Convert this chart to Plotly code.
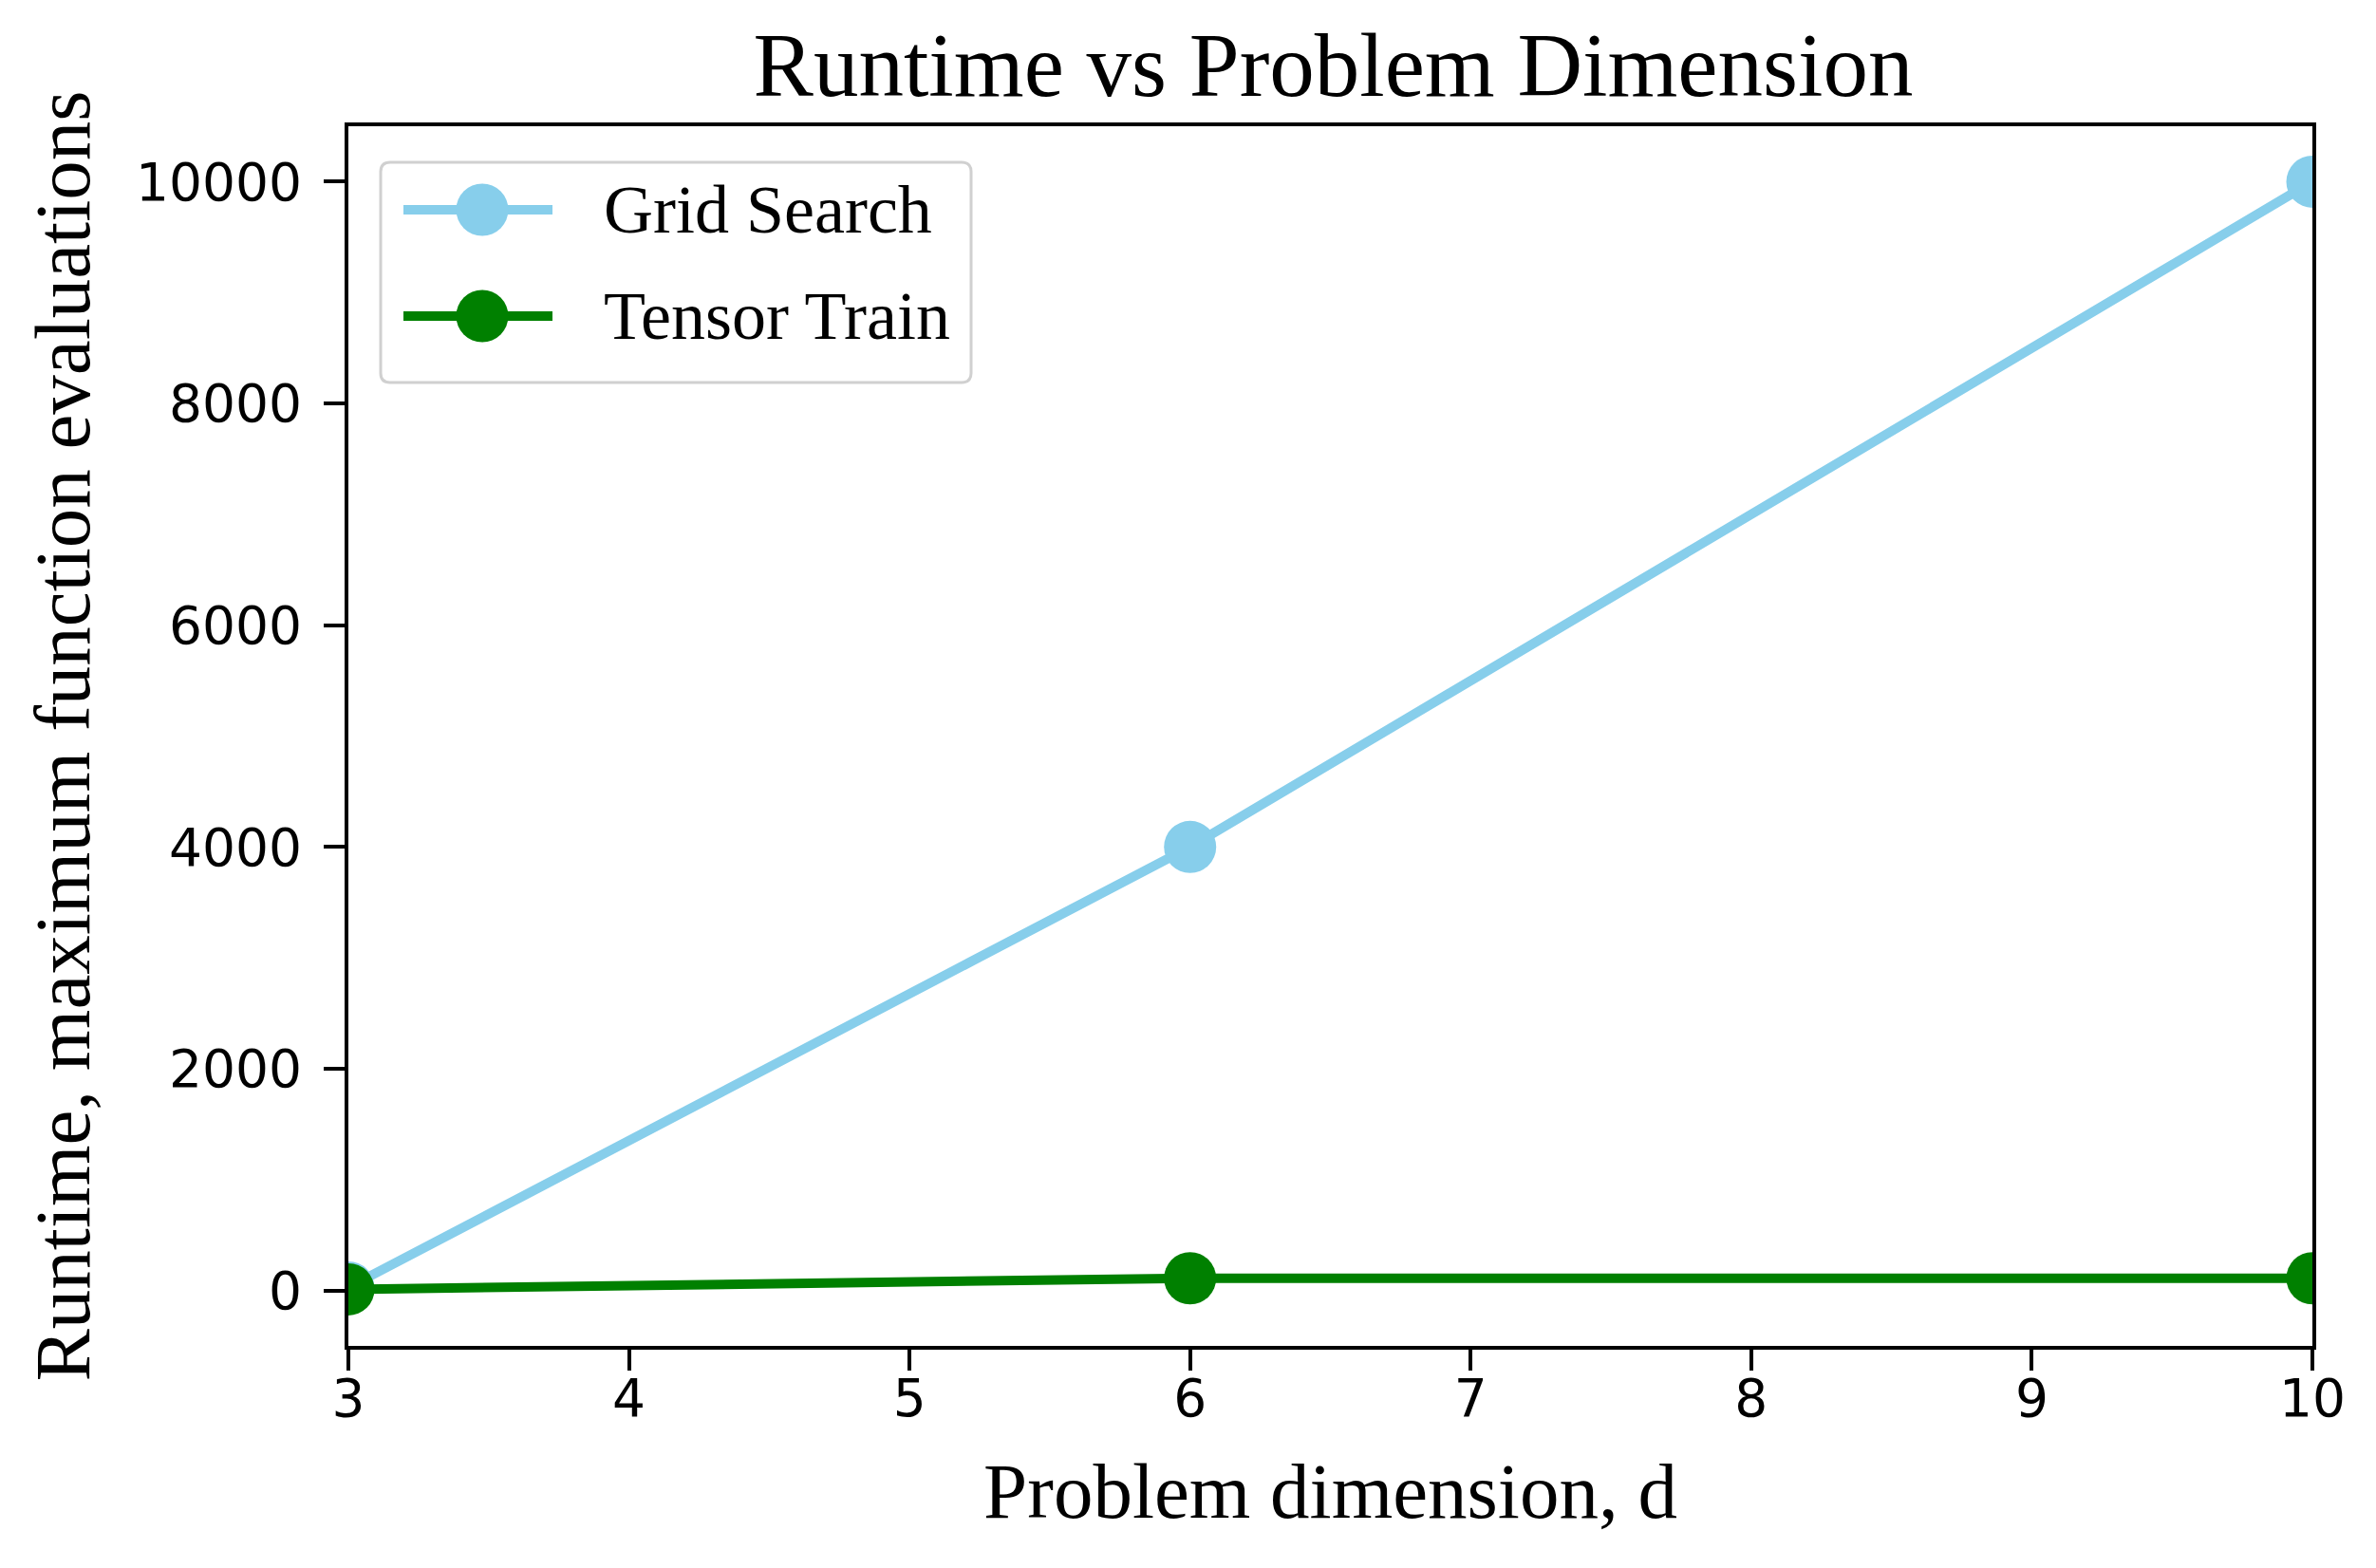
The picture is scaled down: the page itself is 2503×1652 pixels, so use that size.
import plotly.graph_objects as go

# problem dimension d
dims = [3, 6, 10]

# maximum function evaluations
grid_search = [27, 4000, 10000]
tensor_train = [10, 110, 110]

series_names = ["Grid Search", "Tensor Train"]
series_colors = ["#87CEEB", "#008000"]

x_ticks = [3, 4, 5, 6, 7, 8, 9, 10]
y_ticks = [0, 2000, 4000, 6000, 8000, 10000]

W, H = 2503, 1652
L, R, T, B = 367, 2436, 133, 1418  # plot area in page pixels

SERIF = "Liberation Serif"
SANS = "DejaVu Sans"


def px(x):
    return (x - L) / (R - L)


def py(y):
    return (B - y) / (B - T)


def rounded_box(x0, y0, x1, y1, r=10):
    # rounded rectangle path in paper coords from page pixels
    a, b, c, d = px(x0), px(x1), py(y1), py(y0)
    rx, ry = r / (R - L), r / (B - T)
    return (f"M{a + rx},{c} L{b - rx},{c} Q{b},{c} {b},{c + ry} "
            f"L{b},{d - ry} Q{b},{d} {b - rx},{d} L{a + rx},{d} "
            f"Q{a},{d} {a},{d - ry} L{a},{c + ry} Q{a},{c} {a + rx},{c} Z")


def plot_graph():
    fig = go.Figure()

    for name, ys, col in zip(series_names, [grid_search, tensor_train], series_colors):
        fig.add_trace(go.Scatter(
            x=dims, y=ys, name=name, mode="lines+markers",
            line=dict(color=col, width=10),
            marker=dict(color=col, size=55, line=dict(width=0)),
            showlegend=False,
        ))

    # hand-made legend so the sample lines are as long as matplotlib's
    shapes = [dict(type="path", xref="paper", yref="paper",
                   path=rounded_box(401, 171, 1023, 403),
                   line=dict(color="#d0d0d0", width=3), fillcolor="white",
                   layer="above")]
    annotations = []
    for name, col, yc in zip(series_names, series_colors, [221, 333]):
        shapes.append(dict(type="line", xref="paper", yref="paper",
                           x0=px(425), x1=px(582), y0=py(yc), y1=py(yc),
                           line=dict(color=col, width=10), layer="above"))
        shapes.append(dict(type="circle", xref="paper", yref="paper",
                           xsizemode="pixel", ysizemode="pixel",
                           xanchor=px(508), yanchor=py(yc),
                           x0=-27.5, x1=27.5, y0=-27.5, y1=27.5,
                           fillcolor=col, line=dict(width=0), layer="above"))
        annotations.append(dict(text=name, xref="paper", yref="paper",
                                x=px(634), y=py(yc), xanchor="left", yanchor="middle",
                                showarrow=False,
                                font=dict(family=SERIF, size=72, color="black")))

    axis_common = dict(
        showline=True, linecolor="black", linewidth=4, mirror=True,
        ticks="outside", ticklen=22, tickwidth=4, tickcolor="black",
        showgrid=False, zeroline=False,
        tickfont=dict(family=SANS, size=55, color="black"),
    )

    fig.update_layout(
        width=W, height=H,
        margin=dict(l=L, r=W - R, t=T, b=H - B),
        paper_bgcolor="white", plot_bgcolor="white",
        title=dict(text="Runtime vs Problem Dimension", x=px((L + R) / 2 + 3),
                   xref="paper", xanchor="center",
                   y=1 - 68 / H, yref="container", yanchor="middle",
                   font=dict(family=SERIF, size=95, color="black")),
        xaxis=dict(axis_common, range=[3, 10], tickvals=x_ticks,
                   ticklabelstandoff=-18,
                   title=dict(text="Problem dimension, d", standoff=38,
                              font=dict(family=SERIF, size=83, color="black"))),
        yaxis=dict(axis_common, range=[-500, 10500], tickvals=y_ticks,
                   ticktext=[str(v) for v in y_ticks], ticklabelstandoff=12,
                   title=dict(text="Runtime, maximum function evaluations", standoff=22,
                              font=dict(family=SERIF, size=83, color="black"))),
        shapes=shapes,
        annotations=annotations,
    )
    return fig


if __name__ == "__main__":
    fig = plot_graph()
    fig.write_html("out.html", config={"displayModeBar": False},
                   post_script="document.body.style.margin='0';")
